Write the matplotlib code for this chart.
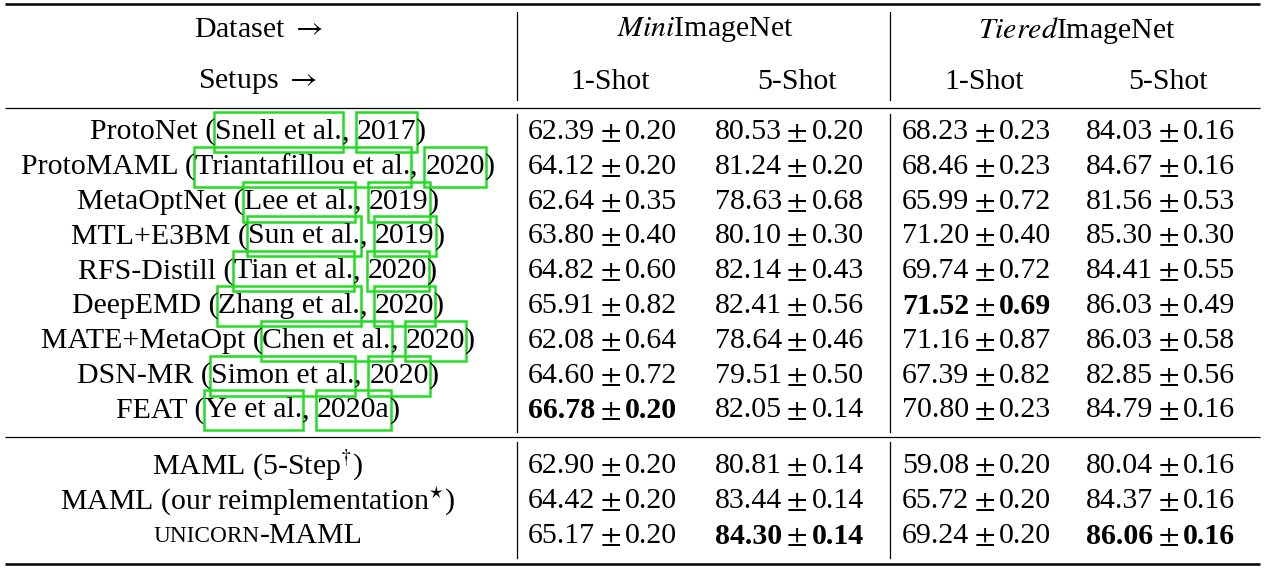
import matplotlib
matplotlib.use("Agg")
import matplotlib.pyplot as plt
from matplotlib.patches import Rectangle

plt.rcParams['font.family'] = ['Liberation Serif', 'DejaVu Serif']
plt.rcParams['mathtext.fontset'] = 'stix'

methods = [
    [("ProtoNet (", 0), ("Snell et al.", 1), (", ", 0), ("2017", 1), (")", 0)],
    [("ProtoMAML (", 0), ("Triantafillou et al.", 1), (", ", 0), ("2020", 1), (")", 0)],
    [("MetaOptNet (", 0), ("Lee et al.", 1), (", ", 0), ("2019", 1), (")", 0)],
    [("MTL+E3BM (", 0), ("Sun et al.", 1), (", ", 0), ("2019", 1), (")", 0)],
    [("RFS-Distill (", 0), ("Tian et al.", 1), (", ", 0), ("2020", 1), (")", 0)],
    [("DeepEMD (", 0), ("Zhang et al.", 1), (", ", 0), ("2020", 1), (")", 0)],
    [("MATE+MetaOpt (", 0), ("Chen et al.", 1), (", ", 0), ("2020", 1), (")", 0)],
    [("DSN-MR (", 0), ("Simon et al.", 1), (", ", 0), ("2020", 1), (")", 0)],
    [("FEAT (", 0), ("Ye et al.", 1), (", ", 0), ("2020a", 1), (")", 0)],
]
mini1 = ["62.39", "64.12", "62.64", "63.80", "64.82", "65.91", "62.08", "64.60", "66.78"]
mini1e = ["0.20", "0.20", "0.35", "0.40", "0.60", "0.82", "0.64", "0.72", "0.20"]
mini5 = ["80.53", "81.24", "78.63", "80.10", "82.14", "82.41", "78.64", "79.51", "82.05"]
mini5e = ["0.20", "0.20", "0.68", "0.30", "0.43", "0.56", "0.46", "0.50", "0.14"]
tier1 = ["68.23", "68.46", "65.99", "71.20", "69.74", "71.52", "71.16", "67.39", "70.80"]
tier1e = ["0.23", "0.23", "0.72", "0.40", "0.72", "0.69", "0.87", "0.82", "0.23"]
tier5 = ["84.03", "84.67", "81.56", "85.30", "84.41", "86.03", "86.03", "82.85", "84.79"]
tier5e = ["0.16", "0.16", "0.53", "0.30", "0.55", "0.49", "0.58", "0.56", "0.16"]
bold_top = {(8, 0), (5, 2)}

methods2 = ["MAML (5-Step$^{\\dagger}$)", "MAML (our reimplementation$^{\\star}$)", "UNICORN"]
b_mini1 = ["62.90", "64.42", "65.17"]; b_mini1e = ["0.20", "0.20", "0.20"]
b_mini5 = ["80.81", "83.44", "84.30"]; b_mini5e = ["0.14", "0.14", "0.14"]
b_tier1 = ["59.08", "65.72", "69.24"]; b_tier1e = ["0.20", "0.20", "0.20"]
b_tier5 = ["80.04", "84.37", "86.06"]; b_tier5e = ["0.16", "0.16", "0.16"]
bold_bot = {(2, 1), (2, 3)}

W, H = 1265, 568
fig = plt.figure(figsize=(W/100, H/100), dpi=100)
ax = fig.add_axes([0, 0, 1, 1])
ax.set_xlim(0, W); ax.set_ylim(H, 0); ax.axis('off')
fs = 21.5
colx = [610, 797, 984, 1168]
mcx = 258

def hline(y, lw):
    ax.plot([5, 1260], [y, y], color='black', lw=lw, solid_capstyle='butt')
hline(4, 1.8); hline(108, 0.9); hline(437, 0.9); hline(564, 1.8)
for x in (517, 890):
    for a, b in ((12, 100), (114, 432), (442, 558)):
        ax.plot([x, x], [a, b], color='black', lw=0.9)

ax.text(mcx, 30, "Dataset $\\rightarrow$", fontsize=fs, ha='center', va='center')
ax.text(mcx, 82, "Setups $\\rightarrow$", fontsize=fs, ha='center', va='center')
ax.text(705, 30, "$\\mathit{Mini}$ImageNet", fontsize=fs, ha='center', va='center')
ax.text(1077, 30, "$\\mathit{Tiered}$ImageNet", fontsize=fs, ha='center', va='center')
for x, s in zip(colx, ["1-Shot", "5-Shot", "1-Shot", "5-Shot"]):
    ax.text(x, 82, s, fontsize=fs, ha='center', va='center')

fig.canvas.draw()
r = fig.canvas.get_renderer()

def cell(x, y, v, e, bold):
    w = 'bold' if bold else 'normal'
    ax.text(x - 15, y, v, fontsize=fs, ha='right', va='center', fontweight=w)
    ax.text(x, y, "$\\pm$", fontsize=fs, ha='center', va='center')
    ax.text(x + 15, y, e, fontsize=fs, ha='left', va='center', fontweight=w)

ys = [132 + i*34.8 for i in range(9)]
for i, segs in enumerate(methods):
    y = ys[i]
    ts = [ax.text(0, y, s, fontsize=fs, ha='left', va='center') for s, _ in segs]
    ws = [t.get_window_extent(r).width for t in ts]
    x = mcx - sum(ws)/2
    for t, wdt, (s, b) in zip(ts, ws, segs):
        t.set_x(x)
        if b:
            ax.add_patch(Rectangle((x - 1, y - 20), wdt + 2, 40, fill=False,
                                   edgecolor='#22dd22', lw=1.8))
        x += wdt
    for j, (v, e) in enumerate([(mini1, mini1e), (mini5, mini5e), (tier1, tier1e), (tier5, tier5e)]):
        cell(colx[j], y, v[i], e[i], (i, j) in bold_top)

ys2 = [466, 501, 536]
for i, m in enumerate(methods2):
    y = ys2[i]
    if i == 2:
        t1 = ax.text(0, y, "UNICORN", fontsize=fs*0.78, ha='left', va='center')
        t2 = ax.text(0, y, "-MAML", fontsize=fs, ha='left', va='center')
        w1 = t1.get_window_extent(r).width; w2 = t2.get_window_extent(r).width
        x0 = mcx - (w1 + w2)/2
        t1.set_x(x0); t2.set_x(x0 + w1)
    else:
        ax.text(mcx, y, m, fontsize=fs, ha='center', va='center')
    for j, (v, e) in enumerate([(b_mini1, b_mini1e), (b_mini5, b_mini5e), (b_tier1, b_tier1e), (b_tier5, b_tier5e)]):
        cell(colx[j], y, v[i], e[i], (i, j) in bold_bot)

fig.savefig("out.png", dpi=100)
